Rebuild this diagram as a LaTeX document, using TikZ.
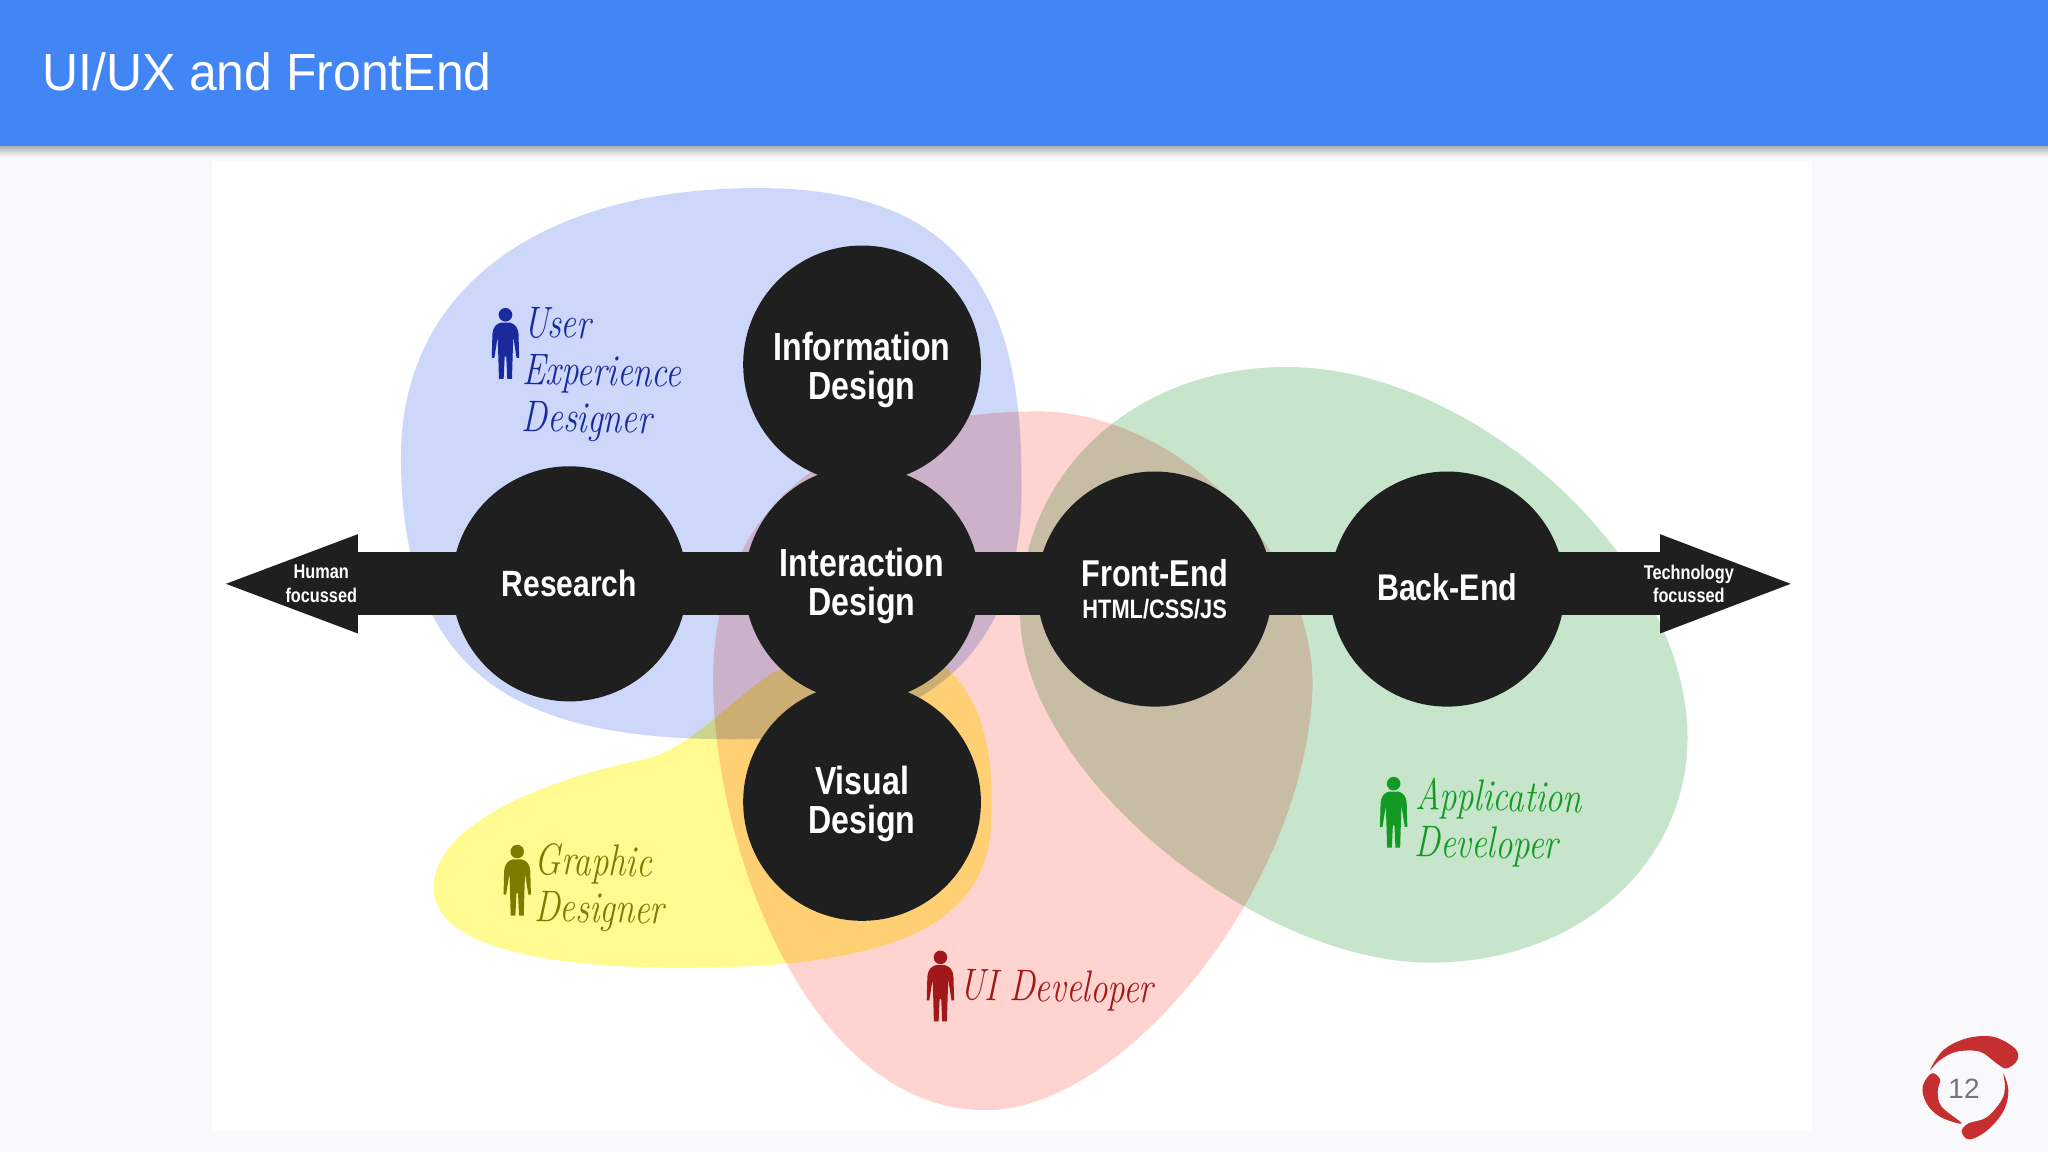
\documentclass[tikz,border=0pt]{standalone}
\usepackage{fontspec}
\usetikzlibrary{shapes.geometric,calc}
\setmainfont{Liberation Sans}
\newfontfamily\titlefont[FakeStretch=0.955]{Liberation Sans}
\newfontfamily\postfont[FakeStretch=0.82]{Liberation Sans Bold}
\newfontfamily\handfont[FakeStretch=0.78,ItalicFeatures={FakeStretch=0.78}]{Latin Modern Roman}
\definecolor{hdr}{HTML}{4285F4}
\definecolor{pagebg}{HTML}{F9F9FB}
\definecolor{ink}{HTML}{1F1F1F}
\definecolor{blobblue}{HTML}{CCD7FA}
\definecolor{blobpink}{HTML}{FFD3CF}
\definecolor{blobgreen}{HTML}{C6E5CB}
\definecolor{blobyellow}{HTML}{FFFB90}
\definecolor{uxblue}{HTML}{1A2A9C}
\definecolor{gdolive}{HTML}{7C7C00}
\definecolor{uired}{HTML}{A01818}
\definecolor{appgreen}{HTML}{129A24}
\definecolor{logored}{HTML}{C62F2F}
\definecolor{numgray}{HTML}{757575}
\pgfdeclarelayer{blobs}
\pgfdeclarelayer{axis}
\pgfsetlayers{blobs,axis,main}
\tikzset{
  x=0.5pt,y=-0.5pt,
  blob/.style={fill=#1,draw=none,blend mode=multiply},
  stage/.style 2 args={circle,fill=ink,draw=none,minimum size=90pt,inner sep=0pt,
    label={[text=white,align=center,inner sep=0pt,yshift=#2,font=\postfont\fontsize{15}{15}\selectfont]center:{#1}}},
  shaft/.style={ink,line width=24pt},
  endlabel/.style={text=white,align=center,inner sep=0pt,font=\postfont\fontsize{7.6}{9}\selectfont},
  handlabel/.style={anchor=west,align=left,inner sep=0pt,rotate=-1,font=\handfont\itshape\fontsize{17}{18}\selectfont},
  person/.pic={
    \fill (0,5) circle (2.6pt);
    \path[fill] (-3.5,11) -- (3.5,11) .. controls (7,12) and (9.5,14) .. (10,20) -- (10.5,38) -- (8.5,38) -- (6,22)
      -- (5.5,36) -- (5,54) -- (1.4,54) -- (0.6,37) -- (-0.6,37) -- (-1.4,54) -- (-5,54) -- (-5.5,36) -- (-6,22)
      -- (-8.5,38) -- (-10.5,38) -- (-10,20) .. controls (-9.5,14) and (-7,12) .. (-3.5,11) -- cycle;
  }
}
\begin{document}
\begin{tikzpicture}
\useasboundingbox (0,0) rectangle (1568,882);
\begin{pgfonlayer}{blobs}
\fill[pagebg] (0,0) rectangle (1568,882);
\fill[white] (162,123) rectangle (1387,866);
\shade[top color=black!30,bottom color=pagebg] (0,112) rectangle (1568,120);
\fill[hdr] (0,0) rectangle (1568,112);
\fill[blob=blobblue] (580,144) .. controls (730,144) and (782,220) .. (782,365)
  .. controls (785,470) and (740,566) .. (560,566)
  .. controls (400,566) and (307,520) .. (307,350)
  .. controls (307,220) and (415,144) .. (580,144) -- cycle;
\fill[blob=blobyellow] (759,625) .. controls (759,715) and (670,741) .. (520,741)
  .. controls (440,741) and (332,730) .. (332,680)
  .. controls (332,630) and (420,596) .. (495,581)
  .. controls (530,572) and (560,535) .. (592,515)
  .. controls (680,470) and (765,490) .. (759,625) -- cycle;
\fill[blob=blobpink] (795,315) .. controls (900,315) and (1005,420) .. (1005,525)
  .. controls (1000,680) and (860,850) .. (755,850)
  .. controls (620,850) and (546,650) .. (546,520)
  .. controls (546,380) and (650,315) .. (795,315) -- cycle;
\fill[blob=blobgreen] (985,281) .. controls (1130,281) and (1292,430) .. (1292,565)
  .. controls (1292,660) and (1210,737) .. (1095,737)
  .. controls (960,737) and (781,590) .. (781,470)
  .. controls (781,360) and (870,281) .. (985,281) -- cycle;
\end{pgfonlayer}
\node[anchor=west,text=white,inner sep=0pt,font=\titlefont\fontsize{20}{24}\selectfont] (title) at (32,55) {UI/UX and FrontEnd};
% axis
\coordinate (lefttip) at (173,447);
\coordinate (righttip) at (1371,447);
\coordinate (shaftL) at (274,447);
\coordinate (shaftR) at (1271,447);
\fill[ink] (lefttip) -- (274,409) -- (274,485) -- cycle;
\fill[ink] (righttip) -- (1271,409) -- (1271,485) -- cycle;
\node[stage={Information\\Design}{-2pt},minimum size=91pt] (info) at (660,279) {};
\node[stage={Interaction\\Design}{-0.7pt}] (interaction) at (660,447) {};
\node[stage={Visual\\Design}{-0.7pt},minimum size=91pt] (visual) at (660,614) {};
\node[stage={{\fontsize{14}{15}\selectfont Research}}{0.3pt}] (research) at (436,447) {};
\node[stage={{\fontsize{14.3}{15}\selectfont Front-End}\\[-3pt]{\fontsize{10.2}{10}\selectfont HTML/CSS/JS}}{0pt}] (frontend) at (884,451) {};
\node[stage={{\fontsize{14.2}{15}\selectfont Back-End}}{0.8pt}] (backend) at (1108,451) {};
\begin{pgfonlayer}{axis}
\draw[shaft] (shaftL) -- (research.center);
\draw[shaft] (research.center) -- (interaction.center);
\draw[shaft] (interaction.center) -- (frontend.center |- interaction.center);
\draw[shaft] (frontend.center |- interaction.center) -- (backend.center |- interaction.center);
\draw[shaft] (backend.center |- interaction.center) -- (shaftR);
\end{pgfonlayer}
\node[endlabel] (humanlabel) at (246,447) {Human\\focussed};
\node[endlabel] (techlabel) at (1293,447) {Technology\\focussed};
% people
\pic[uxblue] at (387,236) {person};
\pic[gdolive] at (396,647) {person};
\pic[uired] at (720,728) {person};
\pic[appgreen] at (1067,595) {person};
\node[handlabel,text=uxblue] (ux) at (400,286) {User\\Experience\\Designer};
\node[handlabel,text=gdolive] (gd) at (409,679) {Graphic\\Designer};
\node[handlabel,text=uired] (ui) at (734,757) {UI Developer};
\node[handlabel,text=appgreen] (app) at (1083,629) {Application\\Developer};
% logo
\fill[logored] plot[smooth cycle,tension=0.6] coordinates {(1477.6,819.3)(1487.8,804)(1505.7,795)(1526,793.8)(1542.7,802.7)(1544.5,811.6)(1536.3,818)(1528.7,814.2)(1515.9,805.2)(1498,805.2)(1485.3,811.6)};
\fill[logored] plot[smooth cycle,tension=0.6] coordinates {(1478.9,821.8)(1485.3,826.4)(1483.5,835.9)(1486.6,847.4)(1501.9,860.1)(1485.3,855)(1475,844.8)(1472,832)};
\fill[logored] plot[smooth cycle,tension=0.6] coordinates {(1533.8,821.8)(1537.6,834.6)(1534.3,849.9)(1522.3,864.7)(1508.2,872.4)(1501.9,866.5)(1507,860.1)(1521,855.5)(1532.5,842.2)(1535,832)};
\node[text=numgray,inner sep=0pt,font=\fontsize{10.7}{12}\selectfont] (pagenum) at (1503.7,833.3) {12};
\end{tikzpicture}
\end{document}
